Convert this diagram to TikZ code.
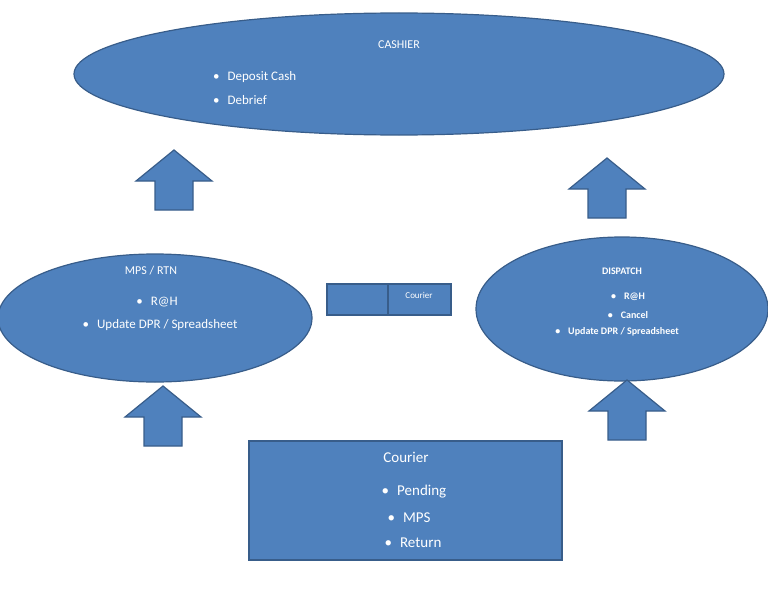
\documentclass[tikz,border=0pt]{standalone}
\usepackage{fontspec}
\setmainfont{Carlito}
\begin{document}
\begin{tikzpicture}[x=1pt,y=-1pt,
  blob/.style={fill={rgb,255:red,79;green,129;blue,189},draw={rgb,255:red,56;green,93;blue,138},line width=1.2pt},
  txt/.style={text=white,inner sep=0pt},
  f13/.style={font=\fontsize{13}{15}\selectfont},
  f12/.style={font=\fontsize{12}{14}\selectfont},
  f10/.style={font=\fontsize{10}{12}\selectfont\bfseries},
  f15/.style={font=\fontsize{15}{17}\selectfont}]
\useasboundingbox (0,0) rectangle (768,594);
% ellipses
\draw[blob] (399,74) ellipse [x radius=325,y radius=61];
\draw[blob] (155,318) ellipse [x radius=157,y radius=64];
\draw[blob] (622,309) ellipse [x radius=146,y radius=72];
\node[blob,minimum width=313,minimum height=119,inner sep=0] (courier) at (405.5,500.5) {};
\node[blob,minimum width=124,minimum height=31,inner sep=0] (small) at (389,299.5) {};
\draw[blob,fill=none] (388,284) -- (388,315);
% arrows
\foreach \x/\t in {174/150, 607/158, 163/386, 627/380}{
  \draw[blob] (\x,\t) -- (\x+38,\t+31) -- (\x+19,\t+31) -- (\x+19,\t+60) -- (\x-19,\t+60) -- (\x-19,\t+31) -- (\x-38,\t+31) -- cycle;
}
% texts
\node[txt,f12] (t1) at (399,45) {CASHIER};
\node[txt,f13,anchor=west] (t2) at (213,77) {•\hspace{8pt}Deposit Cash};
\node[txt,f13,anchor=west] (t3) at (213,100) {•\hspace{8pt}Debrief};
\node[txt,f12] (t4) at (151,271) {MPS / RTN};
\node[txt,f13] (t5) at (157,302) {•\hspace{8pt}R@H};
\node[txt,f13] (t6) at (160,325) {•\hspace{8pt}Update DPR / Spreadsheet};
\node[txt,f10] (t7) at (622,271) {DISPATCH};
\node[txt,f10] (t8) at (628,297) {•\hspace{8pt}R@H};
\node[txt,f10] (t9) at (628,315) {•\hspace{8pt}Cancel};
\node[txt,f10] (t10) at (617,332) {•\hspace{8pt}Update DPR / Spreadsheet};
\node[txt,font=\fontsize{9}{11}\selectfont] (t11) at (419,295) {Courier};
\node[txt,f15] (t12) at (406,457) {Courier};
\node[txt,f15] (t13) at (414,492) {•\hspace{8pt}Pending};
\node[txt,f15] (t14) at (409,518) {•\hspace{8pt}MPS};
\node[txt,f15] (t15) at (413,543) {•\hspace{8pt}Return};
\end{tikzpicture}
\end{document}
